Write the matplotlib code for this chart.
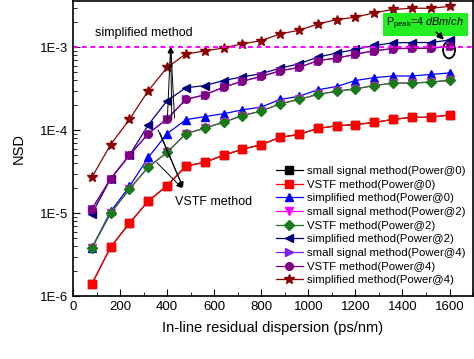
import numpy as np
import matplotlib
matplotlib.use("Agg")
import matplotlib.pyplot as plt
from matplotlib.ticker import FuncFormatter, LogLocator, MultipleLocator
from matplotlib.patches import Ellipse

plt.rcParams['font.family'] = ['Liberation Sans', 'DejaVu Sans']
plt.rcParams['mathtext.fontset'] = 'custom'
plt.rcParams['mathtext.rm'] = 'Liberation Sans'
plt.rcParams['mathtext.it'] = 'Liberation Sans:italic'

# residual dispersion (ps/nm)
disp = [80, 160, 240, 320, 400, 480, 560, 640, 720, 800,
        880, 960, 1040, 1120, 1200, 1280, 1360, 1440, 1520, 1600]

# Power@0
vstf_p0 = [1.4e-6, 3.9e-6, 7.6e-6, 1.4e-5, 2.15e-5, 3.7e-5, 4.1e-5, 5.0e-5, 5.9e-5, 6.7e-5,
           8.2e-5, 8.9e-5, 1.05e-4, 1.13e-4, 1.17e-4, 1.24e-4, 1.35e-4, 1.43e-4, 1.43e-4, 1.53e-4]
small_p0 = vstf_p0
simp_p0 = [3.8e-6, 1.05e-5, 2.1e-5, 4.7e-5, 9.1e-5, 1.34e-4, 1.46e-4, 1.58e-4, 1.76e-4, 1.9e-4,
           2.35e-4, 2.56e-4, 3.07e-4, 3.36e-4, 3.97e-4, 4.3e-4, 4.5e-4, 4.5e-4, 4.7e-4, 4.9e-4]

# Power@2
vstf_p2 = [3.8e-6, 1.0e-5, 1.95e-5, 3.6e-5, 5.4e-5, 9.1e-5, 1.06e-4, 1.25e-4, 1.5e-4, 1.7e-4,
           2.08e-4, 2.35e-4, 2.7e-4, 2.95e-4, 3.15e-4, 3.45e-4, 3.7e-4, 3.7e-4, 3.8e-4, 4.0e-4]
small_p2 = vstf_p2
simp_p2 = [9.8e-6, 2.6e-5, 5.0e-5, 1.16e-4, 2.27e-4, 3.25e-4, 3.45e-4, 3.97e-4, 4.4e-4, 4.8e-4,
           5.6e-4, 6.3e-4, 7.6e-4, 8.5e-4, 9.4e-4, 1.05e-3, 1.13e-3, 1.14e-3, 1.14e-3, 1.22e-3]

# Power@4
vstf_p4 = [1.12e-5, 2.6e-5, 5.0e-5, 9.1e-5, 1.37e-4, 2.35e-4, 2.67e-4, 3.3e-4, 3.9e-4, 4.45e-4,
           5.2e-4, 5.7e-4, 6.9e-4, 7.4e-4, 8.2e-4, 9.1e-4, 9.6e-4, 9.7e-4, 9.7e-4, 1.03e-3]
small_p4 = vstf_p4
simp_p4 = [2.7e-5, 6.7e-5, 1.35e-4, 3.0e-4, 5.7e-4, 8.3e-4, 9.0e-4, 9.8e-4, 1.1e-3, 1.2e-3,
           1.45e-3, 1.6e-3, 1.9e-3, 2.15e-3, 2.3e-3, 2.6e-3, 2.85e-3, 2.95e-3, 2.95e-3, 3.1e-3]

series = [
    ("small signal method(Power@0)", small_p0, 's', 'black'),
    ("VSTF method(Power@0)", vstf_p0, 's', 'red'),
    ("simplified method(Power@0)", simp_p0, '^', 'blue'),
    ("small signal method(Power@2)", small_p2, 'v', 'magenta'),
    ("VSTF method(Power@2)", vstf_p2, 'D', '#1a7a1a'),
    ("simplified method(Power@2)", simp_p2, '<', '#000080'),
    ("small signal method(Power@4)", small_p4, '>', '#7b1fff'),
    ("VSTF method(Power@4)", vstf_p4, 'o', '#800080'),
    ("simplified method(Power@4)", simp_p4, '*', '#8b0000'),
]

fig = plt.figure(figsize=(4.74, 3.59), dpi=100)
ax = fig.add_axes([0.154, 0.175, 0.844, 0.822])

for label, vals, mk, col in series:
    ms = 7 if mk == '*' else 5.5
    ax.plot(disp, vals, marker=mk, color=col, lw=0.9, ms=ms, label=label)

ax.axhline(1e-3, color='#ff00ff', ls=(0, (2.5, 2)), lw=1.4)

ax.set_yscale('log')
ax.set_xlim(0, 1700)
ax.set_ylim(1e-6, 3.6e-3)
ax.xaxis.set_major_locator(MultipleLocator(200))
ax.xaxis.set_minor_locator(MultipleLocator(100))
ax.yaxis.set_major_locator(LogLocator(base=10))
ax.yaxis.set_minor_locator(LogLocator(base=10, subs=np.arange(2, 10)))
ax.yaxis.set_major_formatter(FuncFormatter(lambda v, p: "1E%d" % round(np.log10(v))))
ax.yaxis.set_minor_formatter(FuncFormatter(lambda v, p: ""))
ax.tick_params(which='both', direction='in', labelsize=9.5, top=False, right=False)
ax.tick_params(which='major', length=5)
ax.tick_params(which='minor', length=3)
for s in ax.spines.values():
    s.set_linewidth(1.2)

ax.set_xlabel("In-line residual dispersion (ps/nm)", fontsize=10.5, labelpad=6)
ax.set_ylabel("NSD", fontsize=10.5, labelpad=10)

ax.legend(loc='lower right', frameon=False, fontsize=8.2, labelspacing=0.32,
          handlelength=2.4, handletextpad=0.3, borderaxespad=0.3,
          bbox_to_anchor=(1.0, 0.01))

# annotations
for tail in [(400, 1.2e-4), (420, 1.25e-4), (432, 1.3e-4)]:
    ax.annotate("", xy=(415, 1.08e-3), xytext=tail,
                arrowprops=dict(arrowstyle='-|>', color='black', lw=0.7, mutation_scale=8))
ax.text(300, 1.25e-3, "simplified method", fontsize=9, ha='center', va='bottom')

for tail in [(357, 1.08e-4), (365, 1.0e-4), (348, 4.3e-5)]:
    ax.annotate("", xy=(472, 1.9e-5), xytext=tail,
                arrowprops=dict(arrowstyle='-|>', color='black', lw=0.7, mutation_scale=8))
ax.text(432, 1.35e-5, "VSTF method", fontsize=9, ha='left', va='center')

ax.text(1497, 1.9e-3, r"P$_{\rm peak}$=4 $\it{dBm/ch}$", fontsize=7.8, ha='center', va='center',
        bbox=dict(boxstyle='square,pad=0.3', facecolor='#22ee22', edgecolor='none'))
ax.add_patch(Ellipse((0.94, 0.835), 0.03, 0.058, transform=ax.transAxes,
                     fill=False, edgecolor='black', lw=1.3))
ax.annotate("", xy=(1585, 1.17e-3), xytext=(1535, 1.6e-3),
            arrowprops=dict(arrowstyle='-|>', color='black', lw=1.2, mutation_scale=9))

fig.savefig("out.png", dpi=100)
